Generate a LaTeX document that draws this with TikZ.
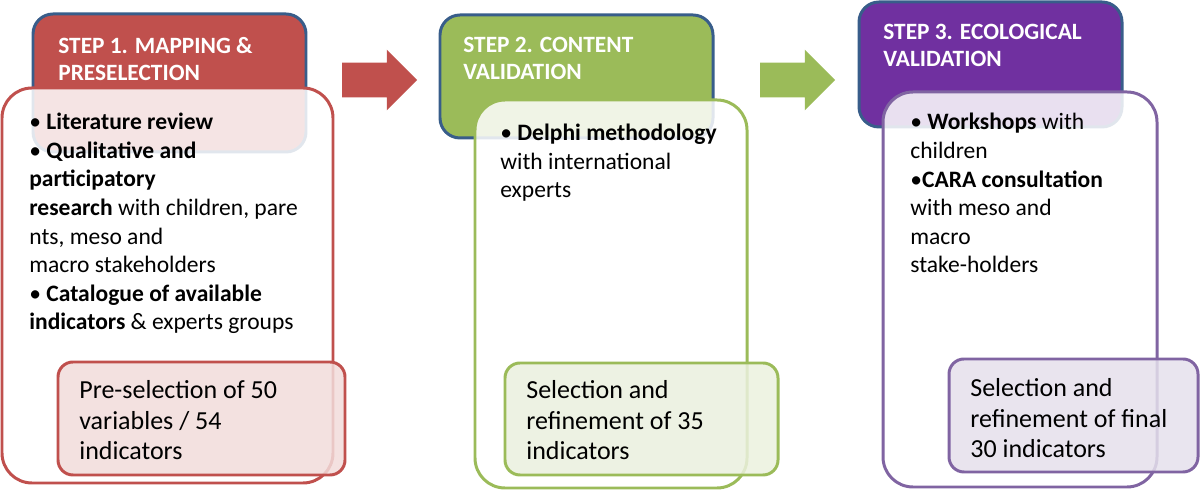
\documentclass[tikz,border=0pt]{standalone}
\usepackage{fontspec}
\setmainfont{Carlito}
\definecolor{sRed}{HTML}{C0504D}
\definecolor{sRedPale}{HTML}{F2DCDB}
\definecolor{sGreen}{HTML}{9BBB59}
\definecolor{sGreenPale}{HTML}{EBF1DE}
\definecolor{sPurple}{HTML}{7030A0}
\definecolor{sLilac}{HTML}{8064A2}
\definecolor{sLilacPale}{HTML}{E5E0EC}
\definecolor{sBlue}{HTML}{385D8A}
\usetikzlibrary{positioning,fit,shapes.arrows}

\tikzset{
  hdrbox/.style={draw=sBlue, fill=#1, line width=1.7pt, rounded corners=0.4cm, inner sep=0pt},
  bodybox/.style={draw=#1, fill=white, fill opacity=0.85, line width=1.7pt, rounded corners=0.6cm, inner sep=0pt},
  resbox/.style 2 args={draw=#1, fill=#2, fill opacity=0.85, line width=1.7pt, rounded corners=0.3cm, inner sep=0pt},
  hdrtext/.style={anchor=base west, align=left, inner sep=0pt, text=white, font=\fontsize{13.3}{15.9}\selectfont\bfseries},
  bodytext/.style={anchor=base west, align=left, inner sep=0pt, font=\fontsize{13.4}{16.3}\selectfont},
  restext/.style={anchor=base west, align=left, inner sep=0pt, font=\fontsize{14.8}{17.6}\selectfont},
  steparrow/.style={single arrow, fill=#1, inner xsep=0pt, inner ysep=0.34cm, minimum height=1.5cm, single arrow head extend=0.26cm}
}

\begin{document}
\begin{tikzpicture}[x=0.02cm, y=-0.02cm]
  \useasboundingbox (0,0) rectangle (1200,492);
  % Step 1 (text nodes sit on the baseline of their last line)
  \node[hdrbox=sRed, fit={(33,14) (306,152)}] (hdr1) {};
  \node[hdrtext] (title1) at (58,81) {STEP 1. MAPPING \&\\PRESELECTION};
  \node[bodybox=sRed, fit={(2,88) (333,483)}] (body1) {};
  \node[bodytext] (txt1) at (29,330) {• \textbf{Literature review}\\
    • \textbf{Qualitative and}\\
    \textbf{participatory}\\
    \textbf{research} with children, pare\\
    nts, meso and\\
    macro stakeholders\\
    • \textbf{Catalogue of available}\\
    \textbf{indicators} \& experts groups};
  \node[resbox={sRed}{sRedPale}, fit={(58,362) (345,475)}] (res1) {};
  \node[restext] (out1) at (79,460) {Pre-selection of 50\\variables / 54\\indicators};
  % Step 2
  \node[hdrbox=sGreen, fit={(440,15) (713,138)}] (hdr2) {};
  \node[hdrtext] (title2) at (463,80) {STEP 2. CONTENT\\VALIDATION};
  \node[bodybox=sGreen, fit={(475,100) (747,488)}] (body2) {};
  \node[bodytext] (txt2) at (500,198) {• \textbf{Delphi methodology}\\
    with international\\
    experts};
  \node[resbox={sGreen}{sGreenPale}, fit={(505,363) (778,475)}] (res2) {};
  \node[restext] (out2) at (526,460) {Selection and\\refinement of 35\\indicators};
  % Step 3
  \node[hdrbox=sPurple, fit={(859,2) (1122,127)}] (hdr3) {};
  \node[hdrtext] (title3) at (883,67) {STEP 3. ECOLOGICAL\\VALIDATION};
  \node[bodybox=sLilac, fit={(883,92) (1157,487)}] (body3) {};
  \node[bodytext] (txt3) at (910,273) {• \textbf{Workshops} with\\
    children\\
    •\textbf{CARA consultation}\\
    with meso and\\
    macro\\
    stake-holders};
  \node[resbox={sLilac}{sLilacPale}, fit={(949,359) (1198,472)}] (res3) {};
  \node[restext] (out3) at (970,458) {Selection and\\refinement of final\\30 indicators};
  % Arrows between steps
  \node[steparrow=sRed] (arr1) at (371,80) {};
  \node[steparrow=sGreen] (arr2) at (789,80) {};
\end{tikzpicture}
\end{document}
